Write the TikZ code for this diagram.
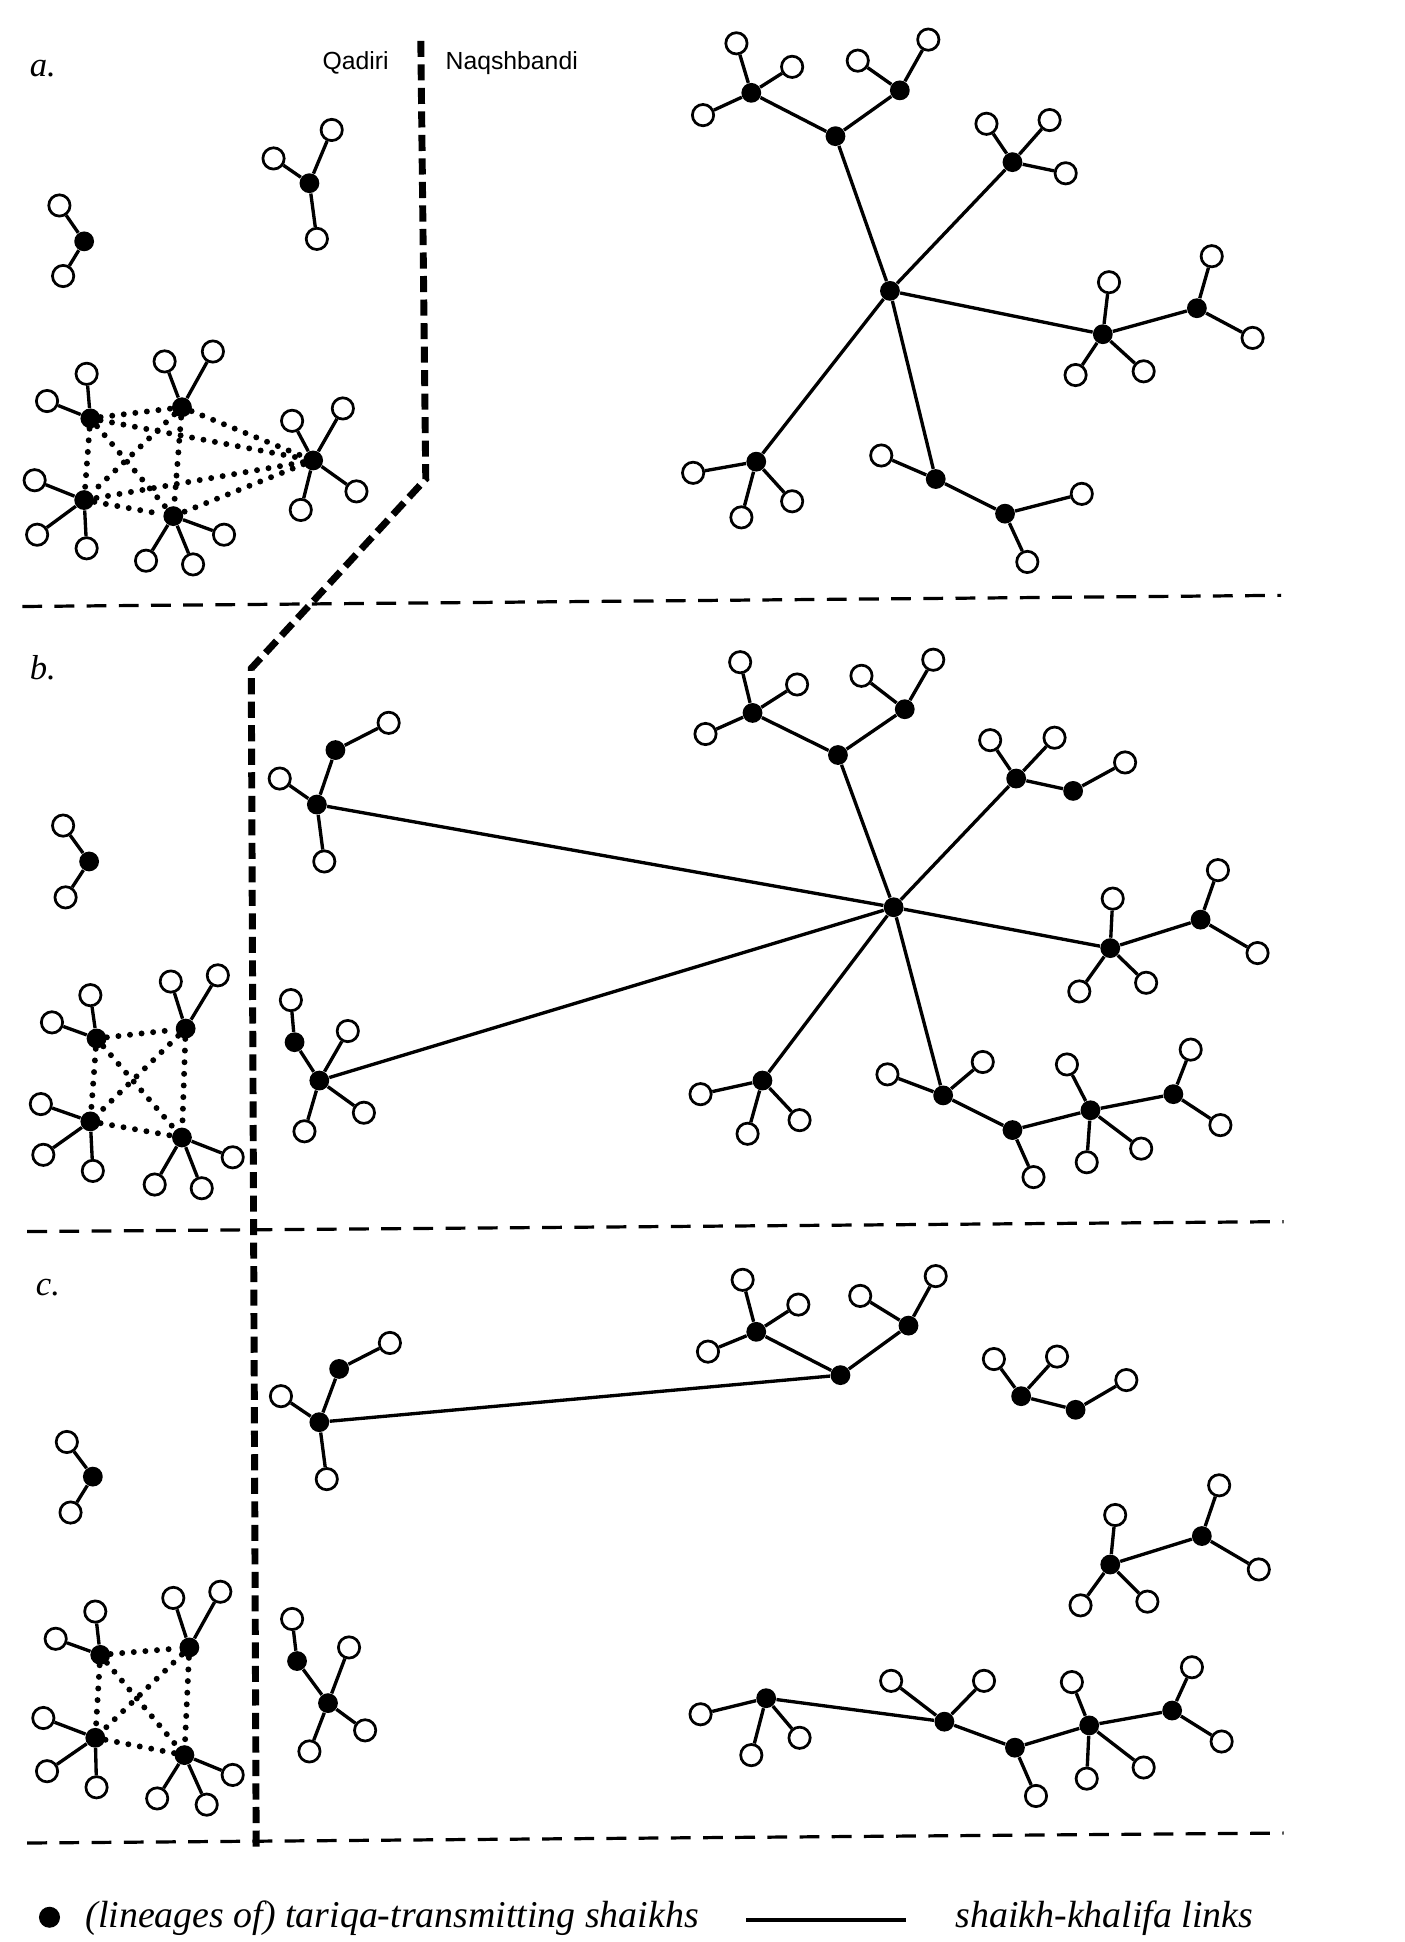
\documentclass[tikz,border=0pt]{standalone}
\usepackage{fontspec}
\setmainfont{Liberation Serif}
\setsansfont{Liberation Sans}
\usepackage{tikz}

\begin{document}
\begin{tikzpicture}[x=0.5pt,y=-0.5pt,
  sh/.style={circle,fill=black,inner sep=0pt,minimum size=8pt},
  kh/.style={circle,draw,fill=white,line width=1.1pt,inner sep=0pt,minimum size=8.6pt},
  link/.style={line width=1.35pt},
  tie/.style={line width=2.4pt,dash pattern=on 0pt off 4.7pt,line cap=round},
  border/.style={line width=2.8pt,dash pattern=on 6.5pt off 3pt},
  rule/.style={line width=1.3pt,dash pattern=on 8pt off 5pt}]
\useasboundingbox (0,0) rectangle (1135,1569);
\node[anchor=base west,font=\fontsize{14}{16}\selectfont\itshape] (la) at (17,62) {a.};
\node[anchor=base west,font=\fontsize{14}{16}\selectfont\itshape] (lb) at (17,549) {b.};
\node[anchor=base west,font=\fontsize{14}{16}\selectfont\itshape] (lc) at (22,1047) {c.};
\node[anchor=base east,font=\sffamily\fontsize{10}{12}\selectfont] (qadiri) at (321,56) {Qadiri};
\node[anchor=base west,font=\sffamily\fontsize{10}{12}\selectfont] (naqsh) at (353,56) {Naqshbandi};
\draw[border] (340,33) -- (344,387) -- (203,540) -- (207,1497);
\draw[rule] (18,490) -- (1035,481);
\draw[rule] (22,995) -- (1037,987);
\draw[rule] (22,1489) -- (1037,1481);
\node[sh] (a1) at (68,195) {};
\node[kh] (a1k1) at (48,166) {};
\node[kh] (a1k2) at (51,223) {};
\node[sh] (a2) at (250,148) {};
\node[kh] (a2k1) at (221,128) {};
\node[kh] (a2k2) at (268,105) {};
\node[kh] (a2k3) at (256,193) {};
\node[sh] (a3) at (73,338) {};
\node[kh] (a3k1) at (70,302) {};
\node[kh] (a3k2) at (38,324) {};
\node[sh] (a4) at (147,329) {};
\node[kh] (a4k1) at (133,292) {};
\node[kh] (a4k2) at (172,284) {};
\node[sh] (a5) at (253,372) {};
\node[kh] (a5k1) at (236,340) {};
\node[kh] (a5k2) at (277,330) {};
\node[kh] (a5k3) at (288,397) {};
\node[kh] (a5k4) at (243,412) {};
\node[sh] (a6) at (68,404) {};
\node[kh] (a6k1) at (28,388) {};
\node[kh] (a6k2) at (30,432) {};
\node[kh] (a6k3) at (70,443) {};
\node[sh] (a7) at (140,417) {};
\node[kh] (a7k1) at (118,453) {};
\node[kh] (a7k2) at (156,456) {};
\node[kh] (a7k3) at (181,432) {};
\node[sh] (a8) at (719,235) {};
\node[sh] (a9) at (675,110) {};
\node[sh] (a10) at (607,75) {};
\node[kh] (a10k1) at (595,35) {};
\node[kh] (a10k2) at (640,54) {};
\node[kh] (a10k3) at (568,93) {};
\node[sh] (a11) at (727,73) {};
\node[kh] (a11k1) at (693,49) {};
\node[kh] (a11k2) at (750,32) {};
\node[sh] (a12) at (818,131) {};
\node[kh] (a12k1) at (797,100) {};
\node[kh] (a12k2) at (848,97) {};
\node[kh] (a12k3) at (861,140) {};
\node[sh] (a13) at (891,270) {};
\node[kh] (a13k1) at (896,228) {};
\node[kh] (a13k2) at (869,303) {};
\node[kh] (a13k3) at (924,300) {};
\node[sh] (a14) at (967,249) {};
\node[kh] (a14k1) at (979,207) {};
\node[kh] (a14k2) at (1012,273) {};
\node[sh] (a15) at (611,373) {};
\node[kh] (a15k1) at (560,382) {};
\node[kh] (a15k2) at (599,418) {};
\node[kh] (a15k3) at (640,405) {};
\node[sh] (a16) at (756,387) {};
\node[kh] (a16k1) at (712,368) {};
\node[sh] (a17) at (812,415) {};
\node[kh] (a17k1) at (874,399) {};
\node[kh] (a17k2) at (830,454) {};
\draw[link] (a1) -- (a1k1);
\draw[link] (a1) -- (a1k2);
\draw[link] (a2) -- (a2k1);
\draw[link] (a2) -- (a2k2);
\draw[link] (a2) -- (a2k3);
\draw[link] (a3) -- (a3k1);
\draw[link] (a3) -- (a3k2);
\draw[link] (a4) -- (a4k1);
\draw[link] (a4) -- (a4k2);
\draw[link] (a5) -- (a5k1);
\draw[link] (a5) -- (a5k2);
\draw[link] (a5) -- (a5k3);
\draw[link] (a5) -- (a5k4);
\draw[link] (a6) -- (a6k1);
\draw[link] (a6) -- (a6k2);
\draw[link] (a6) -- (a6k3);
\draw[link] (a7) -- (a7k1);
\draw[link] (a7) -- (a7k2);
\draw[link] (a7) -- (a7k3);
\draw[tie] (a3) -- (a4);
\draw[tie] (a3) -- (a5);
\draw[tie] (a3) -- (a6);
\draw[tie] (a3) -- (a7);
\draw[tie] (a4) -- (a5);
\draw[tie] (a4) -- (a6);
\draw[tie] (a4) -- (a7);
\draw[tie] (a5) -- (a6);
\draw[tie] (a5) -- (a7);
\draw[tie] (a6) -- (a7);
\draw[link] (a8) -- (a9);
\draw[link] (a9) -- (a10);
\draw[link] (a9) -- (a11);
\draw[link] (a10) -- (a10k1);
\draw[link] (a10) -- (a10k2);
\draw[link] (a10) -- (a10k3);
\draw[link] (a11) -- (a11k1);
\draw[link] (a11) -- (a11k2);
\draw[link] (a8) -- (a12);
\draw[link] (a12) -- (a12k1);
\draw[link] (a12) -- (a12k2);
\draw[link] (a12) -- (a12k3);
\draw[link] (a8) -- (a13);
\draw[link] (a13) -- (a13k1);
\draw[link] (a13) -- (a13k2);
\draw[link] (a13) -- (a13k3);
\draw[link] (a13) -- (a14);
\draw[link] (a14) -- (a14k1);
\draw[link] (a14) -- (a14k2);
\draw[link] (a8) -- (a15);
\draw[link] (a15) -- (a15k1);
\draw[link] (a15) -- (a15k2);
\draw[link] (a15) -- (a15k3);
\draw[link] (a8) -- (a16);
\draw[link] (a16) -- (a16k1);
\draw[link] (a16) -- (a17);
\draw[link] (a17) -- (a17k1);
\draw[link] (a17) -- (a17k2);
\node[sh] (b1) at (72,696) {};
\node[kh] (b1k1) at (51,667) {};
\node[kh] (b1k2) at (53,725) {};
\node[sh] (b2) at (78,839) {};
\node[kh] (b2k1) at (73,804) {};
\node[kh] (b2k2) at (42,826) {};
\node[sh] (b3) at (150,831) {};
\node[kh] (b3k1) at (138,793) {};
\node[kh] (b3k2) at (176,788) {};
\node[sh] (b4) at (73,906) {};
\node[kh] (b4k1) at (33,892) {};
\node[kh] (b4k2) at (35,933) {};
\node[kh] (b4k3) at (75,946) {};
\node[sh] (b5) at (147,919) {};
\node[kh] (b5k1) at (125,957) {};
\node[kh] (b5k2) at (163,960) {};
\node[kh] (b5k3) at (188,935) {};
\node[sh] (b6) at (256,650) {};
\node[kh] (b6k1) at (226,629) {};
\node[kh] (b6k2) at (262,696) {};
\node[sh] (b7) at (271,606) {};
\node[kh] (b7k1) at (314,584) {};
\node[sh] (b8) at (258,873) {};
\node[kh] (b8k1) at (281,833) {};
\node[kh] (b8k2) at (294,899) {};
\node[kh] (b8k3) at (246,914) {};
\node[sh] (b9) at (238,842) {};
\node[kh] (b9k1) at (235,808) {};
\node[sh] (b10) at (722,733) {};
\node[sh] (b11) at (677,610) {};
\node[sh] (b12) at (608,576) {};
\node[kh] (b12k1) at (598,535) {};
\node[kh] (b12k2) at (644,553) {};
\node[kh] (b12k3) at (570,593) {};
\node[sh] (b13) at (731,573) {};
\node[kh] (b13k1) at (696,546) {};
\node[kh] (b13k2) at (754,533) {};
\node[sh] (b14) at (821,629) {};
\node[kh] (b14k1) at (800,598) {};
\node[kh] (b14k2) at (852,596) {};
\node[sh] (b15) at (867,639) {};
\node[kh] (b15k1) at (909,616) {};
\node[sh] (b16) at (897,766) {};
\node[kh] (b16k1) at (899,726) {};
\node[kh] (b16k2) at (872,801) {};
\node[kh] (b16k3) at (926,794) {};
\node[sh] (b17) at (970,743) {};
\node[kh] (b17k1) at (984,703) {};
\node[kh] (b17k2) at (1016,770) {};
\node[sh] (b18) at (616,873) {};
\node[kh] (b18k1) at (566,884) {};
\node[kh] (b18k2) at (604,916) {};
\node[kh] (b18k3) at (646,905) {};
\node[sh] (b19) at (762,885) {};
\node[kh] (b19k1) at (717,868) {};
\node[kh] (b19k2) at (794,858) {};
\node[sh] (b20) at (818,913) {};
\node[kh] (b20k1) at (835,951) {};
\node[sh] (b21) at (881,897) {};
\node[kh] (b21k1) at (862,860) {};
\node[kh] (b21k2) at (878,939) {};
\node[kh] (b21k3) at (922,928) {};
\node[sh] (b22) at (948,884) {};
\node[kh] (b22k1) at (962,848) {};
\node[kh] (b22k2) at (986,909) {};
\draw[link] (b1) -- (b1k1);
\draw[link] (b1) -- (b1k2);
\draw[link] (b2) -- (b2k1);
\draw[link] (b2) -- (b2k2);
\draw[link] (b3) -- (b3k1);
\draw[link] (b3) -- (b3k2);
\draw[link] (b4) -- (b4k1);
\draw[link] (b4) -- (b4k2);
\draw[link] (b4) -- (b4k3);
\draw[link] (b5) -- (b5k1);
\draw[link] (b5) -- (b5k2);
\draw[link] (b5) -- (b5k3);
\draw[tie] (b2) -- (b3);
\draw[tie] (b2) -- (b4);
\draw[tie] (b2) -- (b5);
\draw[tie] (b3) -- (b4);
\draw[tie] (b3) -- (b5);
\draw[tie] (b4) -- (b5);
\draw[link] (b6) -- (b6k1);
\draw[link] (b6) -- (b6k2);
\draw[link] (b6) -- (b7);
\draw[link] (b7) -- (b7k1);
\draw[link] (b8) -- (b8k1);
\draw[link] (b8) -- (b8k2);
\draw[link] (b8) -- (b8k3);
\draw[link] (b8) -- (b9);
\draw[link] (b9) -- (b9k1);
\draw[link] (b10) -- (b6);
\draw[link] (b10) -- (b8);
\draw[link] (b10) -- (b11);
\draw[link] (b11) -- (b12);
\draw[link] (b11) -- (b13);
\draw[link] (b12) -- (b12k1);
\draw[link] (b12) -- (b12k2);
\draw[link] (b12) -- (b12k3);
\draw[link] (b13) -- (b13k1);
\draw[link] (b13) -- (b13k2);
\draw[link] (b10) -- (b14);
\draw[link] (b14) -- (b14k1);
\draw[link] (b14) -- (b14k2);
\draw[link] (b14) -- (b15);
\draw[link] (b15) -- (b15k1);
\draw[link] (b10) -- (b16);
\draw[link] (b16) -- (b16k1);
\draw[link] (b16) -- (b16k2);
\draw[link] (b16) -- (b16k3);
\draw[link] (b16) -- (b17);
\draw[link] (b17) -- (b17k1);
\draw[link] (b17) -- (b17k2);
\draw[link] (b10) -- (b18);
\draw[link] (b18) -- (b18k1);
\draw[link] (b18) -- (b18k2);
\draw[link] (b18) -- (b18k3);
\draw[link] (b10) -- (b19);
\draw[link] (b19) -- (b19k1);
\draw[link] (b19) -- (b19k2);
\draw[link] (b19) -- (b20);
\draw[link] (b20) -- (b20k1);
\draw[link] (b20) -- (b21);
\draw[link] (b21) -- (b21k1);
\draw[link] (b21) -- (b21k2);
\draw[link] (b21) -- (b21k3);
\draw[link] (b21) -- (b22);
\draw[link] (b22) -- (b22k1);
\draw[link] (b22) -- (b22k2);
\node[sh] (c1) at (75,1193) {};
\node[kh] (c1k1) at (54,1165) {};
\node[kh] (c1k2) at (57,1222) {};
\node[sh] (c2) at (81,1337) {};
\node[kh] (c2k1) at (77,1302) {};
\node[kh] (c2k2) at (45,1324) {};
\node[sh] (c3) at (153,1331) {};
\node[kh] (c3k1) at (140,1291) {};
\node[kh] (c3k2) at (178,1286) {};
\node[sh] (c4) at (77,1404) {};
\node[kh] (c4k1) at (35,1388) {};
\node[kh] (c4k2) at (38,1431) {};
\node[kh] (c4k3) at (78,1444) {};
\node[sh] (c5) at (149,1418) {};
\node[kh] (c5k1) at (127,1453) {};
\node[kh] (c5k2) at (167,1458) {};
\node[kh] (c5k3) at (188,1434) {};
\node[sh] (c6) at (258,1149) {};
\node[kh] (c6k1) at (227,1128) {};
\node[kh] (c6k2) at (264,1195) {};
\node[sh] (c7) at (274,1106) {};
\node[kh] (c7k1) at (315,1085) {};
\node[sh] (c8) at (265,1376) {};
\node[kh] (c8k1) at (282,1331) {};
\node[kh] (c8k2) at (295,1398) {};
\node[kh] (c8k3) at (250,1415) {};
\node[sh] (c9) at (240,1342) {};
\node[kh] (c9k1) at (236,1308) {};
\node[sh] (c10) at (679,1111) {};
\node[sh] (c11) at (611,1076) {};
\node[kh] (c11k1) at (600,1034) {};
\node[kh] (c11k2) at (645,1054) {};
\node[kh] (c11k3) at (572,1092) {};
\node[sh] (c12) at (734,1071) {};
\node[kh] (c12k1) at (695,1047) {};
\node[kh] (c12k2) at (756,1031) {};
\node[sh] (c13) at (825,1128) {};
\node[kh] (c13k1) at (803,1098) {};
\node[kh] (c13k2) at (854,1096) {};
\node[sh] (c14) at (869,1139) {};
\node[kh] (c14k1) at (910,1115) {};
\node[sh] (c15) at (897,1264) {};
\node[kh] (c15k1) at (901,1224) {};
\node[kh] (c15k2) at (873,1297) {};
\node[kh] (c15k3) at (927,1294) {};
\node[sh] (c16) at (971,1241) {};
\node[kh] (c16k1) at (985,1200) {};
\node[kh] (c16k2) at (1017,1268) {};
\node[sh] (c17) at (619,1372) {};
\node[kh] (c17k1) at (566,1385) {};
\node[kh] (c17k2) at (607,1418) {};
\node[kh] (c17k3) at (646,1404) {};
\node[sh] (c18) at (763,1391) {};
\node[kh] (c18k1) at (720,1358) {};
\node[kh] (c18k2) at (795,1358) {};
\node[sh] (c19) at (820,1412) {};
\node[kh] (c19k1) at (837,1451) {};
\node[sh] (c20) at (880,1394) {};
\node[kh] (c20k1) at (866,1359) {};
\node[kh] (c20k2) at (878,1437) {};
\node[kh] (c20k3) at (924,1428) {};
\node[sh] (c21) at (947,1382) {};
\node[kh] (c21k1) at (963,1347) {};
\node[kh] (c21k2) at (987,1407) {};
\draw[link] (c1) -- (c1k1);
\draw[link] (c1) -- (c1k2);
\draw[link] (c2) -- (c2k1);
\draw[link] (c2) -- (c2k2);
\draw[link] (c3) -- (c3k1);
\draw[link] (c3) -- (c3k2);
\draw[link] (c4) -- (c4k1);
\draw[link] (c4) -- (c4k2);
\draw[link] (c4) -- (c4k3);
\draw[link] (c5) -- (c5k1);
\draw[link] (c5) -- (c5k2);
\draw[link] (c5) -- (c5k3);
\draw[tie] (c2) -- (c3);
\draw[tie] (c2) -- (c4);
\draw[tie] (c2) -- (c5);
\draw[tie] (c3) -- (c4);
\draw[tie] (c3) -- (c5);
\draw[tie] (c4) -- (c5);
\draw[link] (c6) -- (c6k1);
\draw[link] (c6) -- (c6k2);
\draw[link] (c6) -- (c7);
\draw[link] (c7) -- (c7k1);
\draw[link] (c8) -- (c8k1);
\draw[link] (c8) -- (c8k2);
\draw[link] (c8) -- (c8k3);
\draw[link] (c8) -- (c9);
\draw[link] (c9) -- (c9k1);
\draw[link] (c6) -- (c10);
\draw[link] (c10) -- (c11);
\draw[link] (c10) -- (c12);
\draw[link] (c11) -- (c11k1);
\draw[link] (c11) -- (c11k2);
\draw[link] (c11) -- (c11k3);
\draw[link] (c12) -- (c12k1);
\draw[link] (c12) -- (c12k2);
\draw[link] (c13) -- (c13k1);
\draw[link] (c13) -- (c13k2);
\draw[link] (c13) -- (c14);
\draw[link] (c14) -- (c14k1);
\draw[link] (c15) -- (c15k1);
\draw[link] (c15) -- (c15k2);
\draw[link] (c15) -- (c15k3);
\draw[link] (c15) -- (c16);
\draw[link] (c16) -- (c16k1);
\draw[link] (c16) -- (c16k2);
\draw[link] (c17) -- (c17k1);
\draw[link] (c17) -- (c17k2);
\draw[link] (c17) -- (c17k3);
\draw[link] (c17) -- (c18);
\draw[link] (c18) -- (c18k1);
\draw[link] (c18) -- (c18k2);
\draw[link] (c18) -- (c19);
\draw[link] (c19) -- (c19k1);
\draw[link] (c19) -- (c20);
\draw[link] (c20) -- (c20k1);
\draw[link] (c20) -- (c20k2);
\draw[link] (c20) -- (c20k3);
\draw[link] (c20) -- (c21);
\draw[link] (c21) -- (c21k1);
\draw[link] (c21) -- (c21k2);
\node[sh,minimum size=8.5pt] (keydot) at (40,1549) {};
\node[anchor=base west,font=\fontsize{15.3}{18}\selectfont\itshape] (keyshaikh) at (62,1557) {(lineages of) tariqa-transmitting shaikhs};
\coordinate (keyl) at (603,1551);
\coordinate (keyr) at (732,1551);
\draw[line width=1.7pt] (keyl) -- (keyr);
\node[anchor=base west,font=\fontsize{15.3}{18}\selectfont\itshape] (keylink) at (765,1557) {shaikh-khalifa links};
\end{tikzpicture}
\end{document}
